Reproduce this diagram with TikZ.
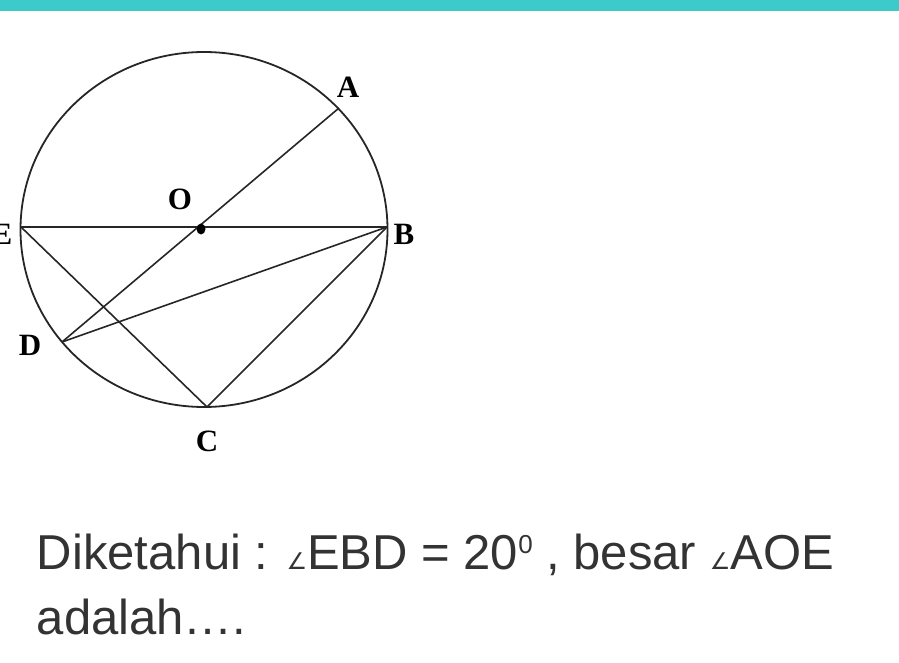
\documentclass[tikz,border=0pt]{standalone}
\usepackage{fontspec}
\setmainfont{Liberation Sans}
\newfontfamily\labelfont{Liberation Serif}
\newfontfamily\symfont{DejaVu Sans}
\usepackage{xcolor}
\definecolor{topbar}{HTML}{3CCACB}
\definecolor{txt}{HTML}{333333}

\newcommand{\ang}{{\symfont\fontsize{23}{23}\selectfont ∠}}
\newcommand{\degr}{\raisebox{16pt}{\fontsize{26}{26}\selectfont 0}}

\begin{document}
\begin{tikzpicture}[x=1pt,y=-1pt,line width=1.8pt,
	pt/.style={font=\labelfont\bfseries\fontsize{31}{31}\selectfont},
	chord/.style={line width=1.6pt},
	question/.style={anchor=base west,inner sep=0pt,text=txt,font=\fontsize{49}{49}\selectfont}]
		\useasboundingbox (0,0) rectangle (899,663);
		\fill[topbar] (0,0) rectangle (899,11);

		\coordinate (o) at (201,229);
		\coordinate (a) at (339,108);
		\coordinate (b) at (387,227);
		\coordinate (c) at (207,407);
		\coordinate (d) at (62,342);
		\coordinate (e) at (21,227);

		\draw[black!85] (204,229.5) ellipse [x radius=183.5,y radius=177.5];
		\draw[chord,black!85] (e) -- (b);
		\draw[chord,black!85] (a) -- (d);
		\draw[chord,black!85] (e) -- (c) -- (b);
		\draw[chord,black!85] (d) -- (b);
		\fill (o) ellipse [x radius=4.5,y radius=5.5];

		\node[pt] (la) at (348,87)  {A};
		\node[pt] (lo) at (180,199) {O};
		\node[pt] (le) at (2,234)   {E};
		\node[pt] (lb) at (404,234) {B};
		\node[pt] (ld) at (30,345)  {D};
		\node[pt] (lc) at (207,441) {C};

		\node[question] (q1) at (36,569) {Diketahui : \ang EBD = 20\degr\ , besar \ang AOE};
		\node[question] (q2) at (36,634) {adalah….};
	\end{tikzpicture}
\end{document}
